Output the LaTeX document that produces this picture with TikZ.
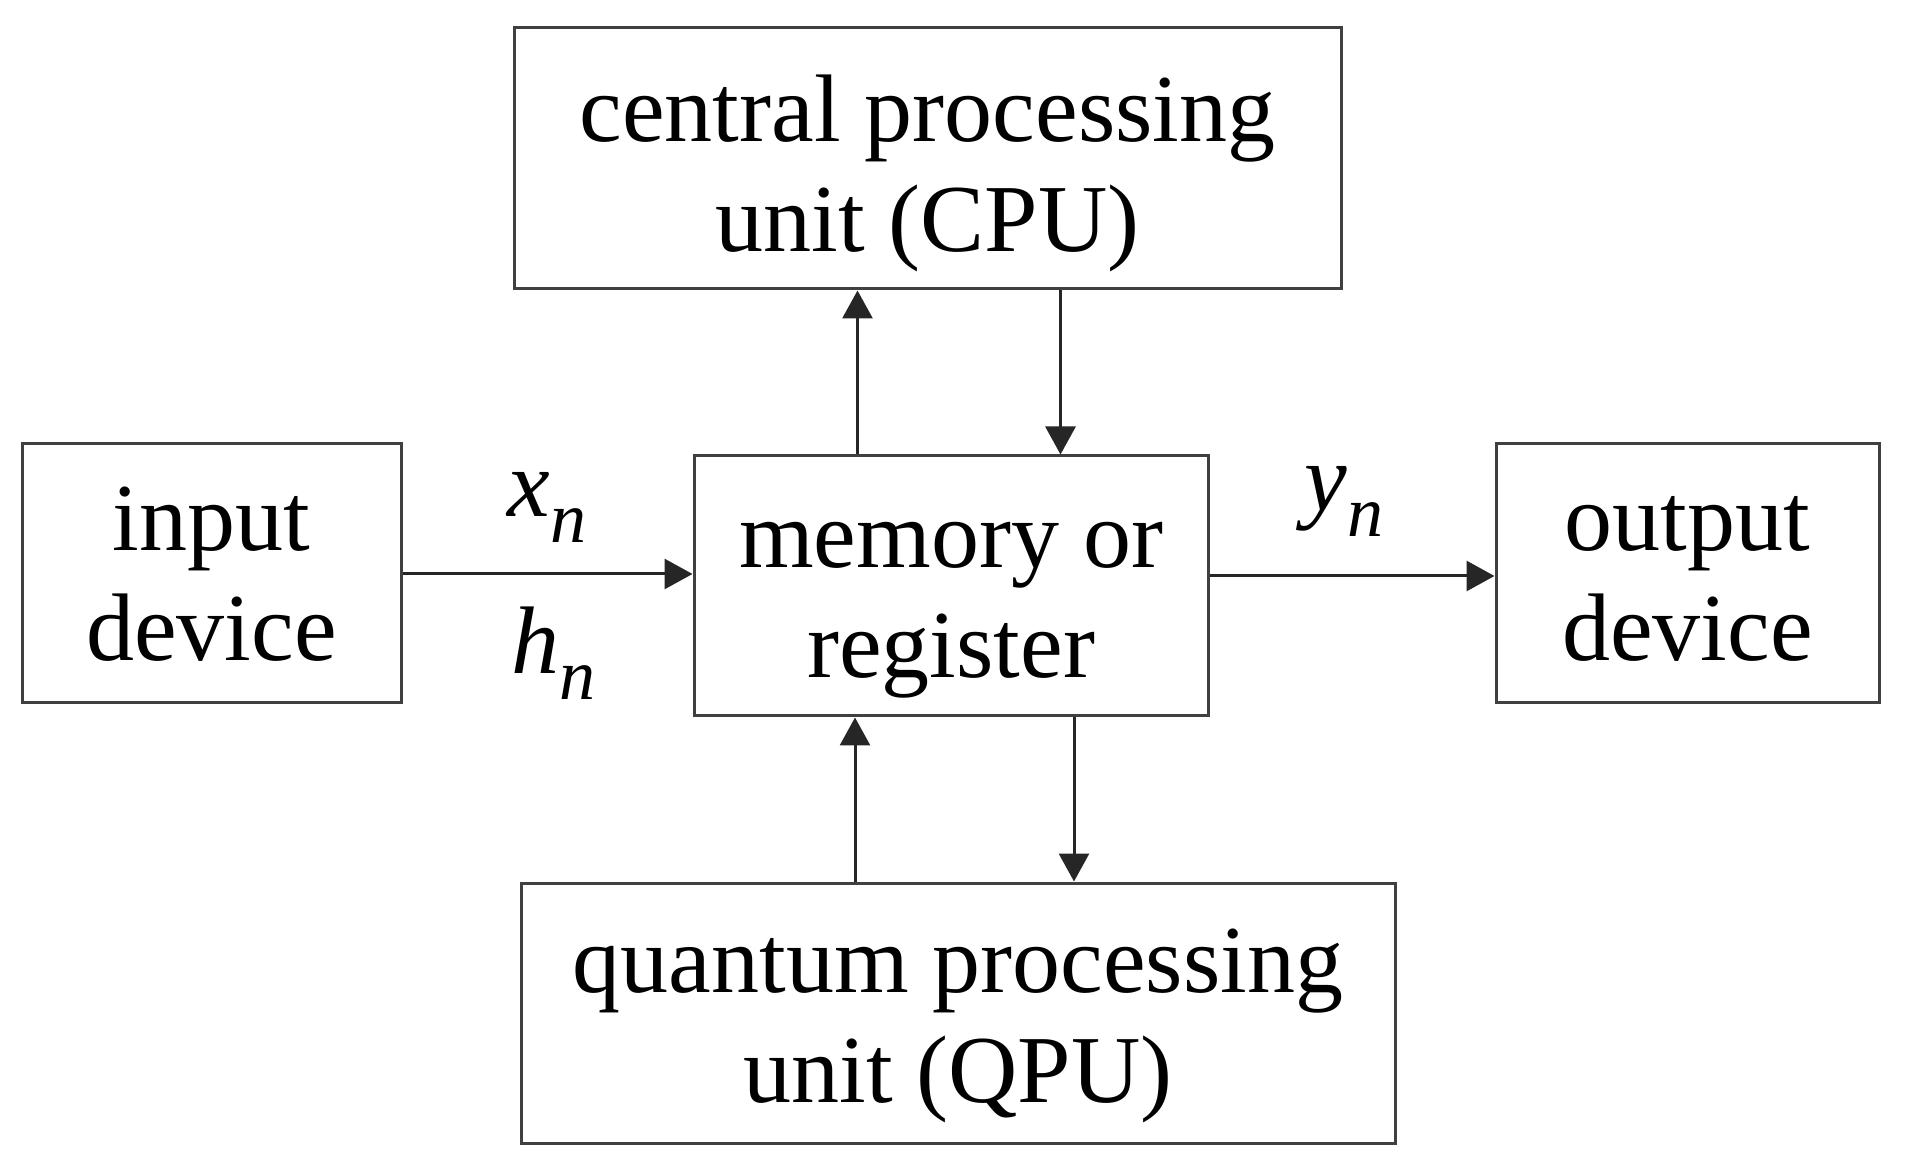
\documentclass[tikz,border=0pt]{standalone}
\usepackage{fontspec}
\setmainfont{Liberation Serif}
\usetikzlibrary{arrows.meta}
\newcommand{\twolines}[3]{\raisebox{-#1}[\height][\depth]{\begin{tabular}{@{}c@{}}#2\\#3\end{tabular}}}
\begin{document}
\begin{tikzpicture}[x=0.5pt,y=-0.5pt,
  box/.style={draw=black!75, line width=1.5pt, inner sep=0pt, align=center,
    font=\fontsize{48}{55}\selectfont},
  arr/.style={draw=black!85, line width=1.5pt, -{Triangle[length=14pt,width=15pt]}},
  lbl/.style={inner sep=0pt, font=\fontsize{48}{55}\selectfont}]
\useasboundingbox (0,0) rectangle (1907,1170);
\node[box, minimum width=413.5pt, minimum height=130.5pt] (cpu) at (927.5,158.5)
  {\twolines{8pt}{central processing}{unit (CPU)}};
\node[box, minimum width=189.5pt, minimum height=129.5pt] (in) at (211.5,573.5)
  {\twolines{5pt}{input}{device}};
\node[box, minimum width=257pt, minimum height=130pt] (mem) at (951,586)
  {\twolines{7.5pt}{memory or}{register}};
\node[box, minimum width=191.5pt, minimum height=129.5pt] (out) at (1687.5,573.5)
  {\twolines{5pt}{output}{device}};
\node[box, minimum width=437pt, minimum height=130pt] (qpu) at (958,1013)
  {\twolines{6pt}{quantum processing}{unit (QPU)}};
\coordinate (c1) at (857.5,0);
\coordinate (c2) at (1060.5,0);
\coordinate (q1) at (855,0);
\coordinate (q2) at (1074,0);
\coordinate (r1) at (0,574);
\coordinate (r2) at (0,576);
\draw[arr] (mem.north -| c1) -- (cpu.south -| c1);
\draw[arr] (cpu.south -| c2) -- (mem.north -| c2);
\draw[arr] (qpu.north -| q1) -- (mem.south -| q1);
\draw[arr] (mem.south -| q2) -- (qpu.north -| q2);
\draw[arr] (in.east |- r1) -- (mem.west |- r1);
\draw[arr] (mem.east |- r2) -- (out.west |- r2);
\node[lbl] (xn) at (547,507) {\itshape x\raisebox{-13pt}{\fontsize{36}{40}\selectfont n}};
\node[lbl] (hn) at (553,653) {\itshape h\raisebox{-13pt}{\fontsize{36}{40}\selectfont n}};
\node[lbl] (yn) at (1344,501) {\itshape y\raisebox{-13pt}{\fontsize{36}{40}\selectfont n}};
\end{tikzpicture}
\end{document}
